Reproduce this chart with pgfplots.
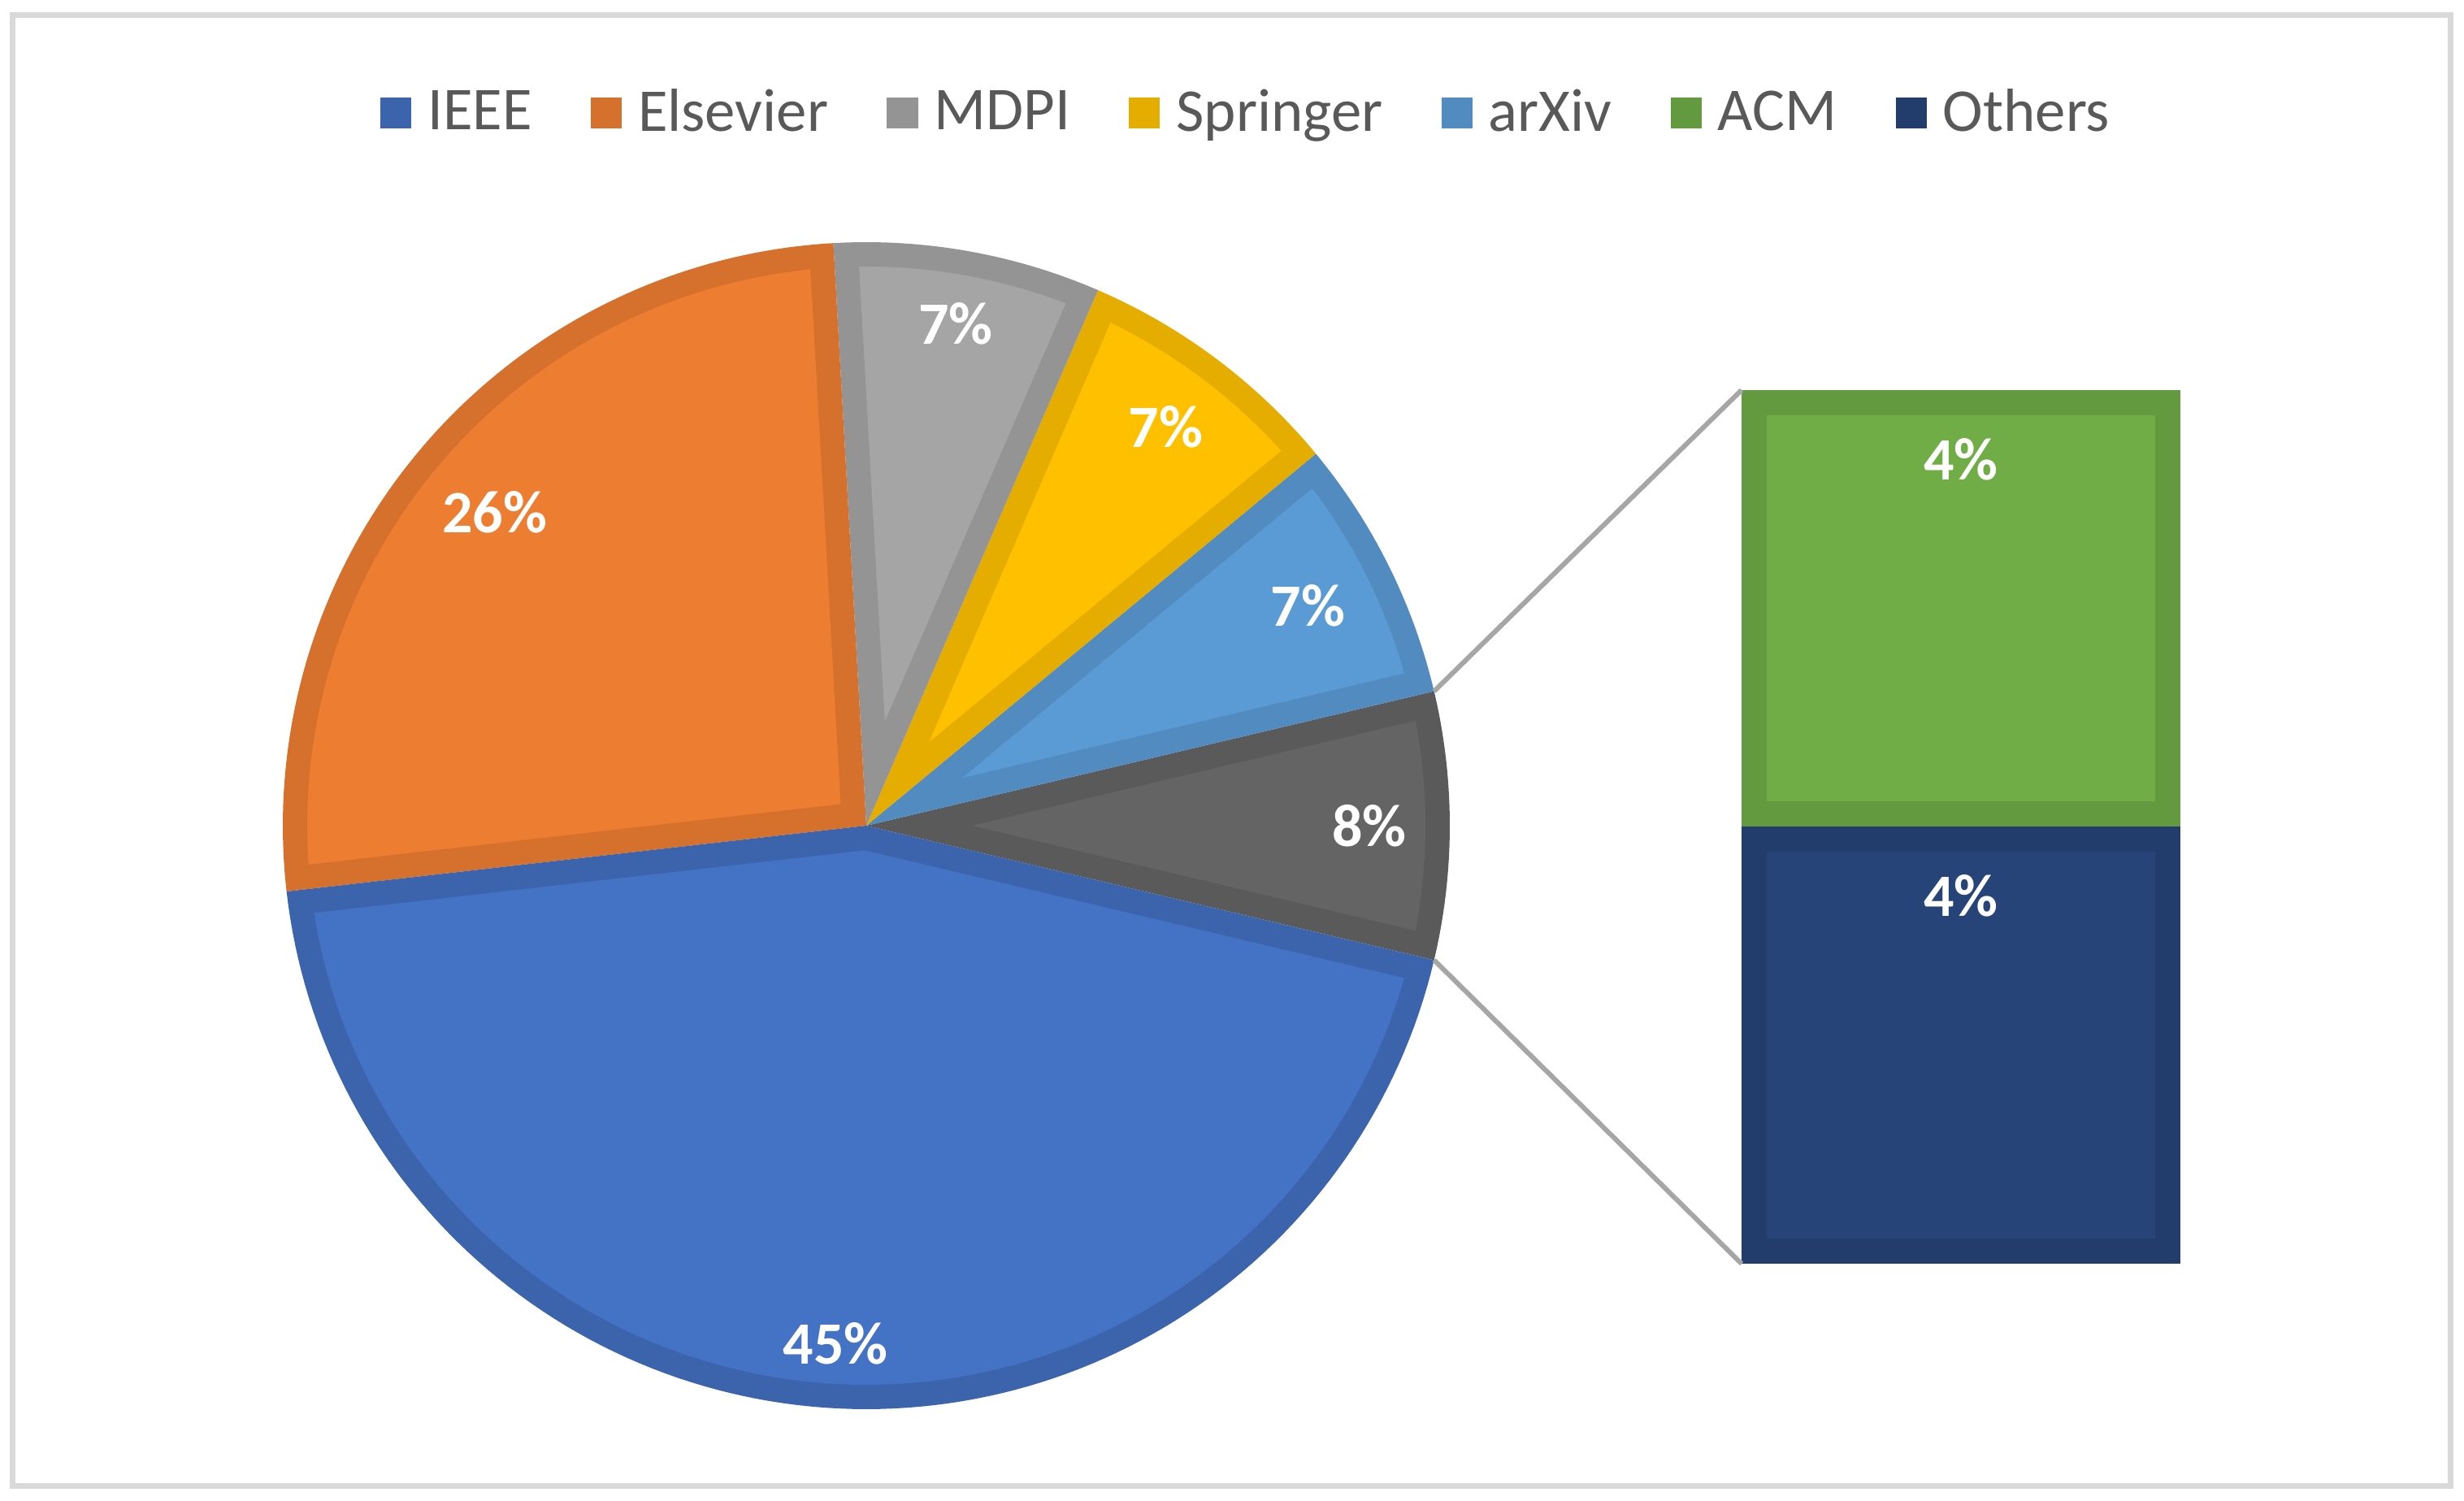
\documentclass[border=0pt]{standalone}
\usepackage{fontspec}
\setmainfont{Carlito}
\usepackage{pgfplots}
\usepackage{pgfplotstable}
\pgfplotsset{compat=1.18}

\definecolor{cIEEE}{HTML}{4472C4}
\definecolor{cElsevier}{HTML}{ED7D31}
\definecolor{cMDPI}{HTML}{A5A5A5}
\definecolor{cSpringer}{HTML}{FFC000}
\definecolor{cArxiv}{HTML}{5B9BD5}
\definecolor{cACM}{HTML}{70AD47}
\definecolor{cOthers}{HTML}{264478}
\definecolor{cOther}{HTML}{646464}
\colorlet{dIEEE}{cIEEE!88!black}
\colorlet{dElsevier}{cElsevier!90!black}
\colorlet{dMDPI}{cMDPI!90!black}
\colorlet{dSpringer}{cSpringer!90!black}
\colorlet{dArxiv}{cArxiv!90!black}
\colorlet{dACM}{cACM!89!black}
\colorlet{dOthers}{cOthers!90!black}
\colorlet{dOther}{cOther!90!black}
\definecolor{cLine}{HTML}{A6A6A6}
\definecolor{cFrame}{HTML}{D9D9D9}
\definecolor{cText}{HTML}{595959}

\pgfplotstableread{
name value
IEEE 44.5
Elsevier 25.9
MDPI 7.4
Springer 7.5
arXiv 7.3
ACM 3.7
Others 3.7
}\pubdata

\tikzset{lbl/.style={font=\fontsize{18.5}{18.5}\selectfont\bfseries, text=white, inner sep=0pt}}

% geometry (pixel units of the reference image)
\def\pcx{1066}
\def\pcy{1016}
\def\pR{718}
\def\pd{30}

\newcommand\pieslice[6]{% #1 start angle, #2 end angle, #3 dark, #4 light, #5 label, #6 label distance
  \pgfmathsetmacro\sM{(#1+#2)/2}%
  \pgfmathsetmacro\sH{(#2-#1)/2}%
  \pgfmathsetmacro\sAp{\pd/sin(\sH)}%
  \pgfmathsetmacro\sDel{asin(\pd/(\pR-\pd))}%
  \pgfmathsetmacro\sIA{#1+\sDel}%
  \pgfmathsetmacro\sIB{#2-\sDel}%
  \pgfmathsetmacro\apx{\pcx+\sAp*cos(\sM)}%
  \pgfmathsetmacro\apy{\pcy-\sAp*sin(\sM)}%
  \pgfmathsetmacro\lx{\pcx+#6*cos(\sM)}%
  \pgfmathsetmacro\ly{\pcy-#6*sin(\sM)}%
  \pgfmathsetmacro\sa{#1}%
  \pgfmathsetmacro\sb{#2}%
  \edef\doslice{%
    \noexpand\addplot[forget plot,fill=#3,draw=none,domain=\sa:\sb,samples=120,variable=\noexpand\t]
      ({\pcx+\pR*cos(\noexpand\t)},{\pcy-\pR*sin(\noexpand\t)}) -- (axis cs:\pcx,\pcy) -- cycle;
    \noexpand\addplot[forget plot,fill=#4,draw=none,domain=\sIA:\sIB,samples=120,variable=\noexpand\t]
      ({\pcx+(\pR-\pd)*cos(\noexpand\t)},{\pcy-(\pR-\pd)*sin(\noexpand\t)}) -- (axis cs:\apx,\apy) -- cycle;
    \noexpand\node[lbl] at (axis cs:\lx,\ly) {\unexpanded{#5}};
  }\doslice
}

\begin{document}
\begin{tikzpicture}
\pgfplotstablegetelem{0}{value}\of\pubdata\edef\vIEEE{\pgfplotsretval}
\pgfplotstablegetelem{1}{value}\of\pubdata\edef\vElsevier{\pgfplotsretval}
\pgfplotstablegetelem{2}{value}\of\pubdata\edef\vMDPI{\pgfplotsretval}
\pgfplotstablegetelem{3}{value}\of\pubdata\edef\vSpringer{\pgfplotsretval}
\pgfplotstablegetelem{4}{value}\of\pubdata\edef\vArxiv{\pgfplotsretval}
\pgfplotstablegetelem{5}{value}\of\pubdata\edef\vACM{\pgfplotsretval}
\pgfplotstablegetelem{6}{value}\of\pubdata\edef\vOthers{\pgfplotsretval}
\pgfmathsetmacro\vOther{\vACM+\vOthers}
\pgfmathsetmacro\aS{-1.8*\vOther}
\pgfmathsetmacro\aA{1.8*\vOther}
\pgfmathsetmacro\aB{\aA+3.6*\vArxiv}
\pgfmathsetmacro\aC{\aB+3.6*\vSpringer}
\pgfmathsetmacro\aD{\aC+3.6*\vMDPI}
\pgfmathsetmacro\aE{\aD+3.6*\vElsevier}
\pgfmathsetmacro\aF{\aE+3.6*\vIEEE}
% bar of pie
\def\bxa{2143}\def\bxb{2683}\def\bya{480}\def\bH{1075}\def\bd{31}
\pgfmathsetmacro\byM{\bya+\bH*\vACM/\vOther}
\pgfmathsetmacro\byB{\byM+\bH*\vOthers/\vOther}
\pgfmathsetmacro\ixa{\bxa+\bd}\pgfmathsetmacro\ixb{\bxb-\bd}
\pgfmathsetmacro\iyaT{\bya+\bd}\pgfmathsetmacro\iyaB{\byM-\bd}
\pgfmathsetmacro\iybT{\byM+\bd}\pgfmathsetmacro\iybB{\byB-\bd}
\pgfmathsetmacro\bxc{(\bxa+\bxb)/2}
\pgfmathsetmacro\lya{\bya+85}\pgfmathsetmacro\lyb{\byM+85}
\pgfmathsetmacro\cxa{\pcx+\pR*cos(\aA)}\pgfmathsetmacro\cya{\pcy-\pR*sin(\aA)}
\pgfmathsetmacro\cxb{\pcx+\pR*cos(\aS)}\pgfmathsetmacro\cyb{\pcy-\pR*sin(\aS)}
\begin{axis}[
  scale only axis, width=758pt, height=461.75pt,
  xmin=0, xmax=3032, ymin=0, ymax=1847, y dir=reverse,
  hide axis, clip=false,
  legend columns=7,
  legend image code/.code={\fill[#1, draw=none] (0pt,-4.7pt) rectangle (9.6pt,4.7pt);},
  legend style={at={(axis cs:1532,139)}, anchor=center, draw=none, fill=none,
    font=\fontsize{18.7}{18.7}\selectfont, text=cText,
    nodes={inner sep=0pt},
    /tikz/every odd column/.append style={column sep=5pt},
    /tikz/every even column/.append style={column sep=18pt}},
]
\path (axis cs:0,0) rectangle (axis cs:3032,1847);
\addlegendimage{fill=dIEEE}\addlegendentry{IEEE}
\addlegendimage{fill=dElsevier}\addlegendentry{Elsevier}
\addlegendimage{fill=dMDPI}\addlegendentry{MDPI}
\addlegendimage{fill=dSpringer}\addlegendentry{Springer}
\addlegendimage{fill=dArxiv}\addlegendentry{arXiv}
\addlegendimage{fill=dACM}\addlegendentry{ACM}
\addlegendimage{fill=dOthers}\addlegendentry{Others}

\pieslice{\aS}{\aA}{dOther}{cOther}{8\%}{619}
\pieslice{\aA}{\aB}{dArxiv}{cArxiv}{7\%}{607}
\pieslice{\aB}{\aC}{dSpringer}{cSpringer}{7\%}{614}
\pieslice{\aC}{\aD}{dMDPI}{cMDPI}{7\%}{627}
\pieslice{\aD}{\aE}{dElsevier}{cElsevier}{26\%}{598}
\pieslice{\aE}{\aF}{dIEEE}{cIEEE}{45\%}{638}

\edef\dobar{%
  \noexpand\addplot[forget plot,fill=dACM,draw=none] coordinates {(\bxa,\bya) (\bxb,\bya) (\bxb,\byM) (\bxa,\byM)} -- cycle;
  \noexpand\addplot[forget plot,fill=cACM,draw=none] coordinates {(\ixa,\iyaT) (\ixb,\iyaT) (\ixb,\iyaB) (\ixa,\iyaB)} -- cycle;
  \noexpand\addplot[forget plot,fill=dOthers,draw=none] coordinates {(\bxa,\byM) (\bxb,\byM) (\bxb,\byB) (\bxa,\byB)} -- cycle;
  \noexpand\addplot[forget plot,fill=cOthers,draw=none] coordinates {(\ixa,\iybT) (\ixb,\iybT) (\ixb,\iybB) (\ixa,\iybB)} -- cycle;
  \noexpand\addplot[forget plot,color=cLine,line width=1.5pt] coordinates {(\cxa,\cya) (\bxa,\bya)};
  \noexpand\addplot[forget plot,color=cLine,line width=1.5pt] coordinates {(\cxb,\cyb) (\bxa,\byB)};
  \noexpand\node[lbl] at (axis cs:\bxc,\lya) {4\noexpand\%};
  \noexpand\node[lbl] at (axis cs:\bxc,\lyb) {4\noexpand\%};
}\dobar
\draw[cFrame, line width=1.75pt] (axis cs:15.5,18.5) rectangle (axis cs:3015.5,1828.5);
\end{axis}
\end{tikzpicture}
\end{document}
